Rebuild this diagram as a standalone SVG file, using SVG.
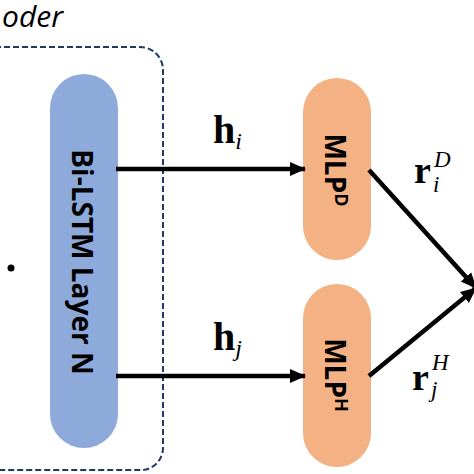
<svg xmlns="http://www.w3.org/2000/svg" width="474" height="474" viewBox="0 0 474 474">
<style>
.pill-b{fill:#8EAADB}
.pill-o{fill:#F4B183}
.lbl{font-family:"Open Sans","Liberation Sans",sans-serif;font-weight:bold;fill:#000}
.math{font-family:"Liberation Serif","DejaVu Serif",serif;fill:#000}
.conn{stroke:#000;stroke-width:4.5;fill:none}
</style>
<defs>
<marker id="ah" markerUnits="userSpaceOnUse" markerWidth="16" markerHeight="16" viewBox="0 0 16 14" refX="15" refY="7" orient="auto">
<path d="M0,0 L16,7 L0,14 Z" fill="#000"/>
</marker>
</defs>
<rect width="474" height="474" fill="#fff"/>
<text x="2" y="27" font-family="'Open Sans','Liberation Sans',sans-serif" font-style="italic" font-size="30" fill="#000">oder</text>
<g id="encoder-box">
<path d="M-5,47 H140 A23,23 0 0 1 163,70 V448 A22,22 0 0 1 141,470 H-5" fill="none" stroke="#203864" stroke-width="2" stroke-dasharray="6,3"/>
</g>
<g id="dot"><circle cx="11" cy="268" r="3.5" fill="#000"/></g>
<g id="bilstm">
<rect class="pill-b" x="50" y="74" width="68" height="374" rx="34"/>
<text class="lbl" font-size="28" text-anchor="middle" transform="translate(72,262) rotate(90)">Bi-LSTM Layer N</text>
</g>
<g id="mlpd">
<rect class="pill-o" x="303" y="78" width="68" height="182" rx="34"/>
<text class="lbl" font-size="28" text-anchor="middle" transform="translate(325,170) rotate(90)">MLP<tspan font-size="18" dy="-10">D</tspan></text>
</g>
<g id="mlph">
<rect class="pill-o" x="303" y="284" width="68" height="183" rx="34"/>
<text class="lbl" font-size="28" text-anchor="middle" transform="translate(325,375) rotate(90)">MLP<tspan font-size="18" dy="-10">H</tspan></text>
</g>
<g id="connectors">
<line class="conn" x1="116" y1="169" x2="305" y2="169" marker-end="url(#ah)"/>
<line class="conn" x1="116" y1="376" x2="305" y2="376" marker-end="url(#ah)"/>
<line class="conn" x1="369" y1="170" x2="476" y2="288" marker-end="url(#ah)"/>
<line class="conn" x1="369" y1="376" x2="476" y2="288" marker-end="url(#ah)"/>
</g>
<g id="labels">
<text class="math" x="213" y="143" font-size="40" font-weight="bold">h<tspan font-size="24" font-weight="normal" font-style="italic" dy="6">i</tspan></text>
<text class="math" x="213" y="350" font-size="40" font-weight="bold">h<tspan font-size="24" font-weight="normal" font-style="italic" dy="6">j</tspan></text>
<text class="math" x="414" y="183" font-size="38" font-weight="bold">r</text>
<text class="math" x="434" y="167" font-size="23" font-style="italic">D</text>
<text class="math" x="433" y="192" font-size="23" font-style="italic">i</text>
<text class="math" x="412" y="390" font-size="38" font-weight="bold">r</text>
<text class="math" x="432" y="370" font-size="23" font-style="italic">H</text>
<text class="math" x="431" y="397" font-size="23" font-style="italic">j</text>
</g>
</svg>
